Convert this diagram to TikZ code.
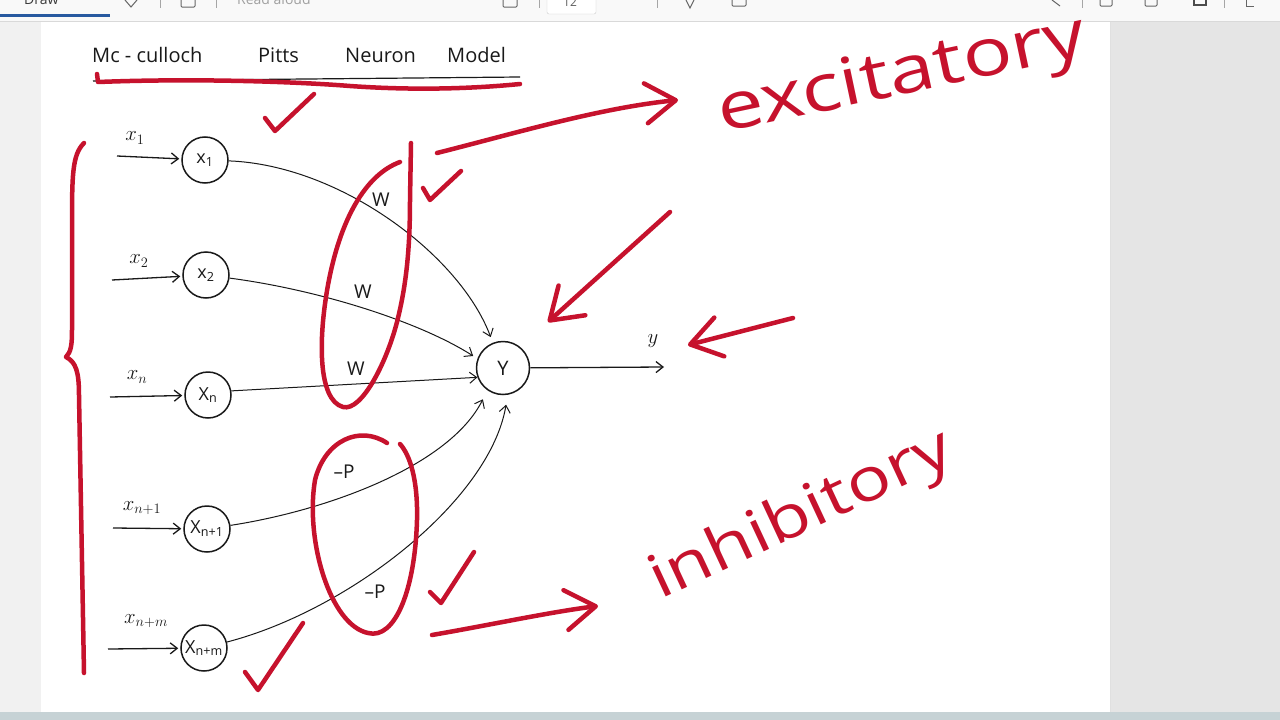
\documentclass[tikz,border=0pt]{standalone}
\usepackage{fontspec}
\setmainfont{Open Sans}
\usetikzlibrary{arrows.meta}
\definecolor{pen}{RGB}{198,18,45}
\definecolor{ink}{RGB}{25,25,25}
\definecolor{sidegray}{RGB}{229,229,229}
\definecolor{leftgray}{RGB}{241,241,241}
\definecolor{barbg}{RGB}{249,249,249}
\definecolor{bottomstrip}{RGB}{198,210,213}
\definecolor{uiblue}{RGB}{40,90,160}
\definecolor{uigray}{RGB}{120,120,120}
\begin{document}
\begin{tikzpicture}[x=1pt,y=-1pt,
  neuron/.style={circle,draw=ink,line width=1.5pt,minimum size=46pt,inner sep=0pt,font=\fontsize{18}{18}\selectfont,text=ink},
  wire/.style={draw=ink,line width=1pt,-{Straight Barb[length=7pt,width=11pt]}},
  feed/.style={draw=ink,line width=1.3pt,shorten >=2pt,-{Straight Barb[length=7pt,width=11pt]}},
  inlabel/.style={font=\fontsize{21}{21}\selectfont,text=ink,inner sep=0pt},
  wlabel/.style={font=\fontsize{19}{19}\selectfont,text=ink,inner sep=0pt},
  redpen/.style={draw=pen,line width=4.5pt,line cap=round,line join=round},
  redarrow/.style={redpen,-{Straight Barb[length=30pt,width=40pt,round]}},
  redword/.style={text=pen,inner sep=0pt},
  titleword/.style={anchor=base west,font=\fontsize{20}{20}\selectfont,text=ink,inner sep=0pt},
  uitext/.style={font=\fontsize{14}{14}\selectfont,inner sep=0pt,anchor=base west}
]
\useasboundingbox (0,0) rectangle (1280,720);
% ---- window background ----
\fill[leftgray] (0,0) rectangle (1280,720);
\fill[sidegray] (1110,21) rectangle (1280,712);
\fill[white] (41,21) rectangle (1110,712);
\draw[black!12] (1110,21) -- (1110,712);
\fill[barbg] (0,0) rectangle (1280,21);
\draw[black!15] (0,21) -- (1280,21);
\fill[bottomstrip] (0,712) rectangle (1280,720);
% ---- toolbar ----
\fill[uiblue] (0,14) rectangle (110,16.5);
\node[uitext,text=ink!85] (tbdraw) at (24,5) {Draw};
\node[uitext,text=uigray!70] (tbread) at (237,5) {Read aloud};
\foreach \sx in {160,216,539,657,1082,1224}{\draw[black!35] (\sx,0) -- (\sx,8);}
\draw[black!60,line width=1pt] (125,0) -- (131,7) -- (137,0);
\draw[black!60,line width=1pt,rounded corners=1pt] (181,0) -- (181,7) -- (195,7) -- (195,0);
\draw[black!60,line width=1pt,rounded corners=1pt] (503,0) -- (503,7) -- (517,7) -- (517,0);
\draw[black!20,fill=white,rounded corners=2pt] (547,-3) rectangle (596,14);
\node[uitext,text=ink!70,font=\fontsize{12}{12}\selectfont] (tbpage) at (563,6) {12};
\draw[black!60,line width=1pt] (686,0) -- (690,8) -- (694,0);
\draw[black!60,line width=1pt,rounded corners=1pt] (732,0) -- (732,6) -- (746,6) -- (746,0);
\draw[black!60,line width=1pt] (1052,0) -- (1060,6);
\draw[black!60,line width=1pt,rounded corners=1pt] (1100,0) -- (1100,6) -- (1112,6) -- (1112,0);
\draw[black!60,line width=1pt,rounded corners=1pt] (1145,0) -- (1145,6) -- (1157,6) -- (1157,0);
\draw[black!70,line width=1.4pt] (1194,0) -- (1194,5) -- (1206,5) -- (1206,0);
\draw[black!60,line width=1pt] (1246,0) -- (1246,6) -- (1254,6);
% ---- title ----
\node[titleword] (t1) at (92,62) {Mc - culloch};
\node[titleword] (t2) at (258,62) {Pitts};
\node[titleword] (t3) at (345,62) {Neuron};
\node[titleword] (t4) at (447,62) {Model};
\draw[ink,line width=1.2pt] (93,81) -- (520,77);
\draw[redpen] (97,74) -- (98,82) .. controls (200,78) and (300,82) .. (350,86) .. controls (420,91) and (480,88) .. (520,84);
% ---- neurons ----
\node[neuron] (n1) at (205,160) {x\textsubscript{1}};
\node[neuron] (n2) at (206,275) {x\textsubscript{2}};
\node[neuron] (n3) at (208,395) {X\textsubscript{n}};
\node[neuron] (n4) at (207,529) {X\textsubscript{n+1}};
\node[neuron] (n5) at (204,648) {X\textsubscript{n+m}};
\node[neuron,minimum size=53pt,font=\fontsize{20}{20}\selectfont] (Y) at (503,368) {Y};
% ---- inputs ----
\coordinate (f1) at (117,156);
\coordinate (f2) at (112,280);
\coordinate (f3) at (110,397);
\coordinate (f4) at (113,528);
\coordinate (f5) at (108,649);
\draw[feed] (f1) -- (n1);
\draw[feed] (f2) -- (n2);
\draw[feed] (f3) -- (n3);
\draw[feed] (f4) -- (n4);
\draw[feed] (f5) -- (n5);
\node[inlabel] (l1) at (135,138) {$x_1$};
\node[inlabel] (l2) at (139,261) {$x_2$};
\node[inlabel] (l3) at (137,377) {$x_n$};
\node[inlabel] (l4) at (142,508) {$x_{n+1}$};
\node[inlabel] (l5) at (146,621) {$x_{n+m}$};
% ---- weighted connections ----
\draw[wire,shorten >=6pt] (n1) .. controls (340,165) and (460,255) .. (Y.112);
\draw[wire,shorten >=5pt] (n2) .. controls (320,290) and (420,322) .. (Y.160);
\draw[wire] (n3.10) -- (Y.200);
\draw[wire,shorten >=10pt] (n4) .. controls (330,510) and (450,465) .. (Y.235);
\draw[wire,shorten >=10pt] (n5) .. controls (350,610) and (490,500) .. (Y.280);
\coordinate (yo) at (664,367);
\draw[wire,line width=1.3pt] (Y) -- (yo);
\node[inlabel] (ylab) at (653,341) {$y$};
\node[wlabel] (w1) at (381,200) {W};
\node[wlabel] (w2) at (363,292) {W};
\node[wlabel] (w3) at (356,369) {W};
\node[wlabel] (p1) at (344,472) {–P};
\node[wlabel] (p2) at (375,592) {–P};
% ---- red annotations ----
\draw[redpen] (400,162) .. controls (365,175) and (340,220) .. (328,285) .. controls (318,340) and (318,400) .. (343,407) .. controls (362,412) and (388,360) .. (398,318) .. controls (406,285) and (410,250) .. (410,200) -- (411,143);
\draw[redpen] (387,443) .. controls (360,425) and (325,440) .. (315,480) .. controls (305,540) and (330,625) .. (368,633) .. controls (395,640) and (415,590) .. (417,520) .. controls (418,480) and (410,455) .. (400,444);
\draw[redpen] (84,143) .. controls (72,155) and (72,175) .. (72,230) -- (72,330) .. controls (72,345) and (71,352) .. (66,357) .. controls (76,362) and (79,372) .. (79,395) -- (84,673);
\draw[redpen] (265,118) -- (275,131) -- (314,94);
\draw[redpen] (423,188) -- (430,200) -- (461,171);
\draw[redpen] (430,592) -- (441,603) -- (474,552);
\draw[redpen] (245,672) -- (258,690) -- (303,623);
\coordinate (ea0) at (437,153);
\coordinate (ea1) at (678,100);
\coordinate (ya0) at (670,212);
\coordinate (ya1) at (548,322);
\coordinate (oa0) at (793,318);
\coordinate (oa1) at (688,345);
\coordinate (ia0) at (432,635);
\coordinate (ia1) at (598,606);
\draw[redarrow] (ea0) .. controls (520,132) and (600,108) .. (ea1);
\draw[redarrow] (ya0) -- (ya1);
\draw[redarrow] (oa0) -- (oa1);
\draw[redarrow] (ia0) .. controls (490,625) and (550,612) .. (ia1);
\node[redword,rotate=12,anchor=base west,font=\fontsize{66}{66}\selectfont] (exc) at (722,133) {\scalebox{1.25}[1]{excitatory}};
\node[redword,rotate=25,anchor=base west,font=\fontsize{60}{60}\selectfont] (inh) at (660,600) {\scalebox{1.22}[1]{inhibitory}};
\end{tikzpicture}
\end{document}
